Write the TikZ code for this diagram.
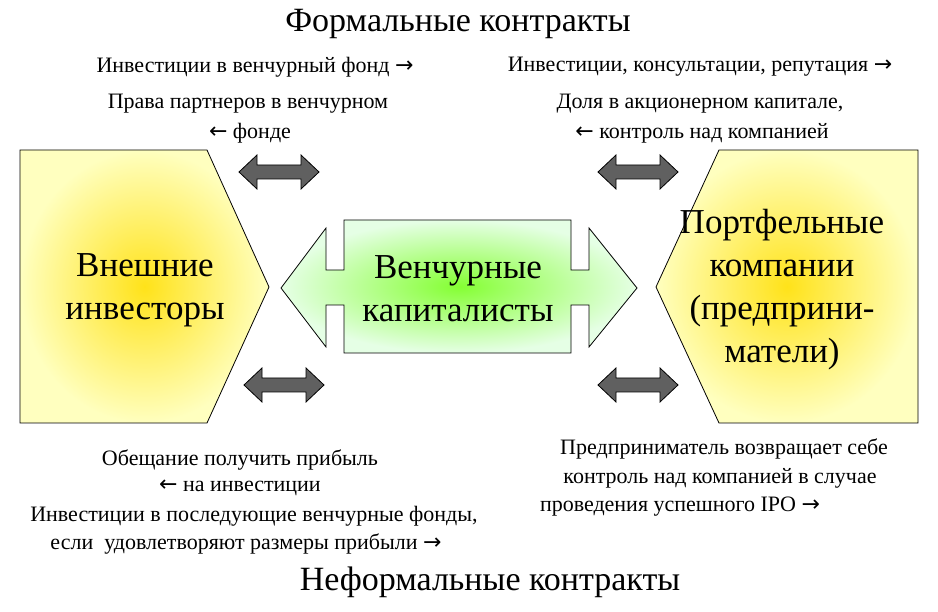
\documentclass[tikz,border=0pt]{standalone}
\usepackage{fontspec}
\setmainfont{Liberation Serif}
\newfontfamily\arrfont{DejaVu Sans}
\newcommand{\ra}{{\arrfont\char"2192}}
\newcommand{\la}{{\arrfont\char"2190}}
\begin{document}
\begin{tikzpicture}[x=1pt,y=-1pt,
  lbl/.style={font=\fontsize{22}{26}\selectfont,inner sep=0pt},
  ttl/.style={font=\fontsize{34}{38}\selectfont,inner sep=0pt},
  big/.style={font=\fontsize{35}{43}\selectfont,inner sep=0pt,align=center},
  darr/.style={fill=gray!75!black,draw=black,line width=0.8pt}]
\useasboundingbox (0,0) rectangle (938,612);
\fill[white] (0,0) rectangle (938,612);
% side shapes
\shade[inner color=yellow!75!orange!90, outer color=yellow!25, draw=black, line width=0.8pt]
  (20,150) -- (207,150) -- (269,287) -- (207,423) -- (20,423) -- cycle;
\shade[inner color=yellow!75!orange!90, outer color=yellow!25, draw=black, line width=0.8pt]
  (918,150) -- (719,150) -- (656,287) -- (719,423) -- (918,423) -- cycle;
% center arrow
\shade[inner color=green!60!yellow!80, outer color=green!10!white, draw=black, line width=0.8pt]
  (281,288) -- (326,228) -- (326,270) -- (344,270) -- (344,220) -- (571,220) -- (571,270) -- (589,270) -- (589,228) -- (637,288) -- (589,347) -- (589,305) -- (571,305) -- (571,353) -- (344,353) -- (344,305) -- (326,305) -- (326,347) -- cycle;
% gray double arrows
\foreach \cx/\cy/\nm in {279/172/a1, 638/172/a2, 284/385/a3, 638/385/a4}{
  \coordinate (\nm) at (\cx,\cy);
  \path[darr] ([shift={(-40,0)}]\nm) -- ++(18,-17) -- ++(0,10) -- ++(44,0) -- ++(0,-10) -- ++(18,17) -- ++(-18,17) -- ++(0,-10) -- ++(-44,0) -- ++(0,10) -- cycle;
}
\node[ttl] (t1) at (458,24) {Формальные контракты};
\node[ttl] (t2) at (490,582) {Неформальные контракты};
\node[lbl] (l1) at (255,67) {Инвестиции в венчурный фонд \ra};
\node[lbl] (l2) at (700,67) {Инвестиции, консультации, репутация \ra};
\node[lbl] (l3) at (248,104) {Права партнеров в венчурном};
\node[lbl] (l4) at (250,133) {\la{} фонде};
\node[lbl] (l5) at (700,104) {Доля в акционерном капитале,};
\node[lbl] (l6) at (702,133) {\la{} контроль над компанией};
\node[lbl] (b1) at (240,460) {Обещание получить прибыль};
\node[lbl] (b2) at (240,488) {\la{} на инвестиции};
\node[lbl] (b3) at (254,516) {Инвестиции в последующие венчурные фонды,};
\node[lbl] (b4) at (246,544) {если \ удовлетворяют размеры прибыли \ra};
\node[lbl] (r1) at (724,449) {Предприниматель возвращает себе};
\node[lbl] (r2) at (720,478) {контроль над компанией в случае};
\node[lbl] (r3) at (680,507) {проведения успешного IPO \ra};
\node[big] (n1) at (145,290) {Внешние\\инвесторы};
\node[big] (n2) at (458,289) {Венчурные\\капиталисты};
\node[big] (n3) at (782,290) {Портфельные\\компании\\(предприни-\\матели)};
\end{tikzpicture}
\end{document}
